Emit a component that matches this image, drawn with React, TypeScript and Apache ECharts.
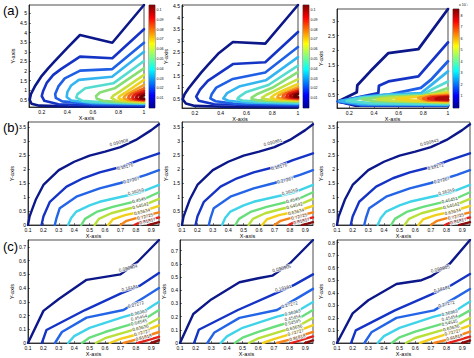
import React, { useEffect, useRef } from 'react';
import * as echarts from 'echarts';

// ---------- Row (a) contour lines: [x, y] points ----------
const A1_LINES = [
  [[1,5.43],[0.752,3.47],[0.499,3.87],[0.4,3.2],[0.3,2.5],[0.25,2.14],[0.2,1.75],[0.15,1.25],[0.115,0.8],[0.105,0.5],[0.12,0.3],[0.18,0.2],[0.4,0.16],[1,0.15]],
  [[1,4.17],[0.752,2.66],[0.499,2.75],[0.35,2.1],[0.29,1.8],[0.24,1.4],[0.21,0.95],[0.2,0.7],[0.22,0.45],[0.33,0.27],[0.6,0.22],[1,0.2]],
  [[1,3.47],[0.752,2.1],[0.5,2.02],[0.38,1.62],[0.33,1.2],[0.305,0.8],[0.31,0.6],[0.36,0.42],[0.6,0.28],[1,0.25]],
  [[1,3.0],[0.75,1.7],[0.49,1.54],[0.43,1.25],[0.4,0.9],[0.395,0.65],[0.43,0.47],[0.6,0.34],[1,0.3]],
  [[1,2.52],[0.76,1.36],[0.54,1.1],[0.48,0.8],[0.47,0.62],[0.52,0.45],[0.7,0.36],[1,0.32]],
  [[1,2.14],[0.77,1.1],[0.655,0.88],[0.625,0.7],[0.63,0.56],[0.68,0.45],[0.8,0.39],[1,0.35]],
  [[1,1.8],[0.81,0.93],[0.76,0.72],[0.745,0.6],[0.78,0.47],[0.9,0.41],[1,0.38]],
  [[1,1.54],[0.85,0.86],[0.81,0.7],[0.8,0.6],[0.83,0.49],[1,0.42]],
  [[1,1.28],[0.877,0.83],[0.85,0.7],[0.84,0.6],[0.87,0.5],[1,0.45]],
  [[1,1.1],[0.9,0.8],[0.88,0.68],[0.877,0.6],[0.9,0.52],[1,0.48]],
  [[1,0.97],[0.93,0.78],[0.91,0.66],[0.91,0.6],[0.93,0.54],[1,0.5]],
  [[1,0.85],[0.955,0.74],[0.94,0.66],[0.94,0.6],[0.96,0.56],[1,0.53]],
  [[1,0.74],[0.975,0.68],[0.97,0.63],[0.975,0.59],[1,0.56]],
];

const A2_LINES = [
  [[1,4.54],[0.746,2.88],[0.495,2.95],[0.38,2.44],[0.3,1.95],[0.25,1.64],[0.2,1.3],[0.15,0.95],[0.12,0.7],[0.105,0.49],[0.13,0.3],[0.2,0.2],[0.5,0.15],[1,0.14]],
  [[1,3.38],[0.746,2.08],[0.495,2.0],[0.3,1.28],[0.24,0.9],[0.21,0.6],[0.23,0.42],[0.35,0.27],[1,0.2]],
  [[1,2.73],[0.746,1.64],[0.495,1.36],[0.366,0.99],[0.33,0.7],[0.32,0.52],[0.36,0.4],[0.5,0.3],[1,0.25]],
  [[1,2.3],[0.75,1.3],[0.55,1.05],[0.45,0.75],[0.42,0.52],[0.46,0.42],[0.6,0.35],[1,0.3]],
  [[1,1.93],[0.77,1.1],[0.6,0.8],[0.54,0.58],[0.53,0.5],[0.57,0.43],[0.7,0.38],[1,0.34]],
  [[1,1.65],[0.8,0.98],[0.68,0.7],[0.64,0.56],[0.64,0.5],[0.68,0.45],[0.8,0.41],[1,0.38]],
  [[1,1.35],[0.83,0.88],[0.75,0.66],[0.72,0.55],[0.75,0.48],[0.85,0.44],[1,0.42]],
  [[1,1.14],[0.86,0.8],[0.81,0.65],[0.79,0.56],[0.82,0.5],[1,0.45]],
  [[1,1.0],[0.89,0.76],[0.85,0.65],[0.84,0.57],[0.87,0.52],[1,0.48]],
  [[1,0.92],[0.91,0.74],[0.885,0.65],[0.88,0.58],[0.91,0.53],[1,0.5]],
  [[1,0.84],[0.93,0.72],[0.915,0.65],[0.91,0.59],[0.94,0.55],[1,0.53]],
  [[1,0.77],[0.955,0.69],[0.94,0.64],[0.94,0.6],[0.96,0.57],[1,0.56]],
  [[1,0.71],[0.975,0.66],[0.97,0.62],[0.975,0.6],[1,0.58]],
];

const A3_LINES = [
  [[1,3.4],[0.76,2.04],[0.517,1.91],[0.37,1.29],[0.265,0.82],[0.26,0.58],[0.108,0.27],[0.25,0.13],[1,0.12]],
  [[1,2.27],[0.76,1.12],[0.517,0.95],[0.44,0.8],[0.435,0.55],[0.26,0.4],[0.108,0.27],[0.3,0.14],[1,0.13]],
  [[1,1.63],[0.86,1.0],[0.78,0.73],[0.517,0.5],[0.3,0.42],[0.108,0.27],[0.3,0.15],[1,0.14]],
  [[1,1.29],[0.87,0.85],[0.78,0.55],[0.5,0.5],[0.3,0.42],[0.12,0.28],[0.3,0.18],[1,0.16]],
  [[1,0.95],[0.88,0.7],[0.79,0.5],[0.5,0.46],[0.3,0.39],[0.18,0.29],[0.35,0.22],[1,0.19]],
  [[1,0.72],[0.9,0.58],[0.8,0.47],[0.5,0.43],[0.3,0.35],[0.4,0.28],[0.8,0.25],[1,0.22]],
  [[1,0.6],[0.9,0.52],[0.8,0.45],[0.55,0.4],[0.42,0.34],[0.55,0.3],[0.8,0.27],[1,0.24]],
  [[1,0.55],[0.85,0.47],[0.7,0.41],[0.58,0.36],[0.7,0.31],[1,0.26]],
  [[1,0.5],[0.85,0.45],[0.76,0.39],[0.8,0.32],[1,0.28]],
  [[1,0.47],[0.85,0.43],[0.8,0.37],[0.83,0.32],[1,0.3]],
  [[1,0.44],[0.88,0.41],[0.84,0.37],[0.87,0.34],[1,0.32]],
  [[1,0.41],[0.92,0.39],[0.9,0.36],[0.92,0.35],[1,0.34]],
];

// ---------- Row (b) contour lines (same in all three panels) ----------
const B_LINES = [
  [[0.1,0],[0.11,0.3],[0.13,0.6],[0.15,0.9],[0.2,1.43],[0.3,1.96],[0.4,2.26],[0.5,2.48],[0.6,2.62],[0.7,2.78],[0.8,3.04],[0.9,3.39],[0.95,3.6]],
  [[0.188,0],[0.2,0.3],[0.242,0.83],[0.35,1.37],[0.457,1.67],[0.565,1.88],[0.72,2.1],[0.82,2.32],[0.95,2.56]],
  [[0.274,0],[0.285,0.25],[0.306,0.6],[0.414,1.01],[0.565,1.31],[0.7,1.5],[0.866,1.79],[0.95,1.96]],
  [[0.36,0],[0.38,0.25],[0.414,0.48],[0.5,0.7],[0.565,0.83],[0.7,1.0],[0.82,1.15],[0.95,1.43]],
  [[0.446,0],[0.47,0.22],[0.55,0.48],[0.65,0.65],[0.75,0.78],[0.85,0.92],[0.95,1.17]],
  [[0.532,0],[0.56,0.22],[0.64,0.42],[0.75,0.58],[0.85,0.7],[0.95,0.93]],
  [[0.62,0],[0.65,0.2],[0.73,0.35],[0.85,0.5],[0.95,0.68]],
  [[0.7,0],[0.74,0.15],[0.82,0.27],[0.95,0.45]],
  [[0.79,0],[0.83,0.1],[0.95,0.27]],
  [[0.88,0],[0.95,0.1]],
];

const B1_LABELS = [
  [0.69,2.95,'0.090908'],[0.73,2.08,'0.18176'],[0.77,1.6,'0.27267'],[0.8,1.19,'0.36359'],
  [0.82,0.89,'0.4545'],[0.83,0.69,'0.54542'],[0.84,0.47,'0.63634'],[0.86,0.3,'0.72725'],[0.875,0.14,'0.81817'],
];
const B2_LABELS = [
  [0.69,2.95,'0.090881'],[0.73,2.08,'0.18176'],[0.77,1.6,'0.27267'],[0.8,1.19,'0.36359'],
  [0.82,0.89,'0.4545'],[0.83,0.69,'0.54542'],[0.84,0.47,'0.63634'],[0.86,0.3,'0.72725'],[0.875,0.14,'0.81817'],
];
const B3_LABELS = [
  [0.69,2.95,'0.090843'],[0.73,2.08,'0.18172'],[0.77,1.6,'0.27267'],[0.8,1.19,'0.36359'],
  [0.82,0.89,'0.45451'],[0.83,0.69,'0.54542'],[0.84,0.47,'0.63634'],[0.86,0.3,'0.72725'],[0.875,0.14,'0.81817'],
];

// ---------- Row (c) contour lines ----------
const C1_LINES = [
  [[0.1,0],[0.2,0.234],[0.3,0.32],[0.48,0.46],[0.7,0.5],[0.81,0.59],[0.95,0.75]],
  [[0.19,0],[0.22,0.095],[0.47,0.24],[0.7,0.36],[0.83,0.42],[0.95,0.51]],
  [[0.275,0],[0.32,0.08],[0.48,0.185],[0.72,0.24],[0.85,0.33],[0.95,0.4]],
  [[0.36,0],[0.4,0.05],[0.5,0.11],[0.72,0.19],[0.85,0.23],[0.95,0.3]],
  [[0.45,0],[0.5,0.04],[0.6,0.08],[0.75,0.13],[0.85,0.17],[0.95,0.24]],
  [[0.54,0],[0.6,0.035],[0.75,0.085],[0.85,0.12],[0.95,0.18]],
  [[0.63,0],[0.7,0.03],[0.8,0.06],[0.95,0.13]],
  [[0.72,0],[0.8,0.025],[0.95,0.08]],
  [[0.81,0],[0.95,0.045]],
  [[0.9,0],[0.95,0.02]],
];
const C2_LINES = [
  [[0.1,0],[0.185,0.22],[0.3,0.33],[0.48,0.46],[0.6,0.49],[0.69,0.51],[0.8,0.6],[0.95,0.78]],
  [[0.19,0],[0.22,0.1],[0.47,0.25],[0.7,0.37],[0.83,0.44],[0.95,0.52]],
  [[0.275,0],[0.32,0.08],[0.48,0.19],[0.72,0.25],[0.85,0.34],[0.95,0.41]],
  [[0.36,0],[0.4,0.05],[0.5,0.115],[0.72,0.2],[0.85,0.24],[0.95,0.31]],
  [[0.45,0],[0.5,0.04],[0.6,0.085],[0.75,0.14],[0.85,0.18],[0.95,0.25]],
  [[0.54,0],[0.6,0.035],[0.75,0.09],[0.85,0.125],[0.95,0.19]],
  [[0.63,0],[0.7,0.03],[0.8,0.065],[0.95,0.135]],
  [[0.72,0],[0.8,0.025],[0.95,0.085]],
  [[0.81,0],[0.95,0.05]],
  [[0.9,0],[0.95,0.02]],
];
const C3_LINES = [
  [[0.1,0],[0.2,0.236],[0.3,0.34],[0.48,0.47],[0.64,0.5],[0.7,0.53],[0.82,0.63],[0.95,0.82]],
  [[0.19,0],[0.22,0.1],[0.47,0.26],[0.7,0.385],[0.83,0.46],[0.95,0.55]],
  [[0.275,0],[0.32,0.085],[0.48,0.2],[0.72,0.26],[0.85,0.355],[0.95,0.43]],
  [[0.36,0],[0.4,0.055],[0.5,0.12],[0.72,0.21],[0.85,0.25],[0.95,0.33]],
  [[0.45,0],[0.5,0.045],[0.6,0.09],[0.75,0.145],[0.85,0.19],[0.95,0.26]],
  [[0.54,0],[0.6,0.04],[0.75,0.095],[0.85,0.13],[0.95,0.2]],
  [[0.63,0],[0.7,0.03],[0.8,0.07],[0.95,0.14]],
  [[0.72,0],[0.8,0.025],[0.95,0.09]],
  [[0.81,0],[0.95,0.05]],
  [[0.9,0],[0.95,0.02]],
];

const C1_LABELS = [
  [0.75,0.545,'0.090904'],[0.76,0.4,'0.18181'],[0.8,0.28,'0.27272'],[0.82,0.22,'0.36363'],
  [0.82,0.185,'0.45454'],[0.82,0.15,'0.54545'],[0.83,0.11,'0.63636'],[0.84,0.075,'0.72727'],[0.85,0.04,'0.81818'],
];
const C2_LABELS = [
  [0.75,0.565,'0.090905'],[0.76,0.415,'0.18181'],[0.8,0.29,'0.27272'],[0.82,0.23,'0.36363'],
  [0.82,0.19,'0.45454'],[0.82,0.155,'0.54545'],[0.83,0.115,'0.63636'],[0.84,0.08,'0.72727'],[0.85,0.04,'0.81818'],
];
const C3_LABELS = [
  [0.76,0.59,'0.090905'],[0.77,0.43,'0.18181'],[0.8,0.31,'0.27272'],[0.82,0.24,'0.36363'],
  [0.82,0.2,'0.45454'],[0.82,0.16,'0.54545'],[0.83,0.12,'0.63636'],[0.84,0.085,'0.72727'],[0.85,0.045,'0.81818'],
];

// ---------- Axis extents and tick labels ----------
const A1_RANGE = [0.1, 1, 0.13, 5.43];
const A2_RANGE = [0.1, 1, 0.11, 4.54];
const A3_RANGE = [0.1, 1, 0.05, 3.4];
const B_RANGE = [0.1, 0.95, 0, 3.68];
const C1_RANGE = [0.1, 0.95, 0, 0.75];
const C2_RANGE = [0.1, 0.95, 0, 0.78];
const C3_RANGE = [0.1, 0.95, 0, 0.82];

const A_X_TICKS = [0.2, 0.4, 0.6, 0.8, 1];
const A1_Y_TICKS = [0.5, 1, 1.5, 2, 2.5, 3, 3.5, 4, 4.5, 5];
const A2_Y_TICKS = [0.5, 1, 1.5, 2, 2.5, 3, 3.5, 4, 4.5];
const A3_Y_TICKS = [0.5, 1, 1.5, 2, 2.5, 3];
const BC_X_TICKS = [0.1, 0.2, 0.3, 0.4, 0.5, 0.6, 0.7, 0.8, 0.9];
const B_Y_TICKS = [0, 0.5, 1, 1.5, 2, 2.5, 3, 3.5];
const C12_Y_TICKS = [0, 0.1, 0.2, 0.3, 0.4, 0.5, 0.6, 0.7];
const C3_Y_TICKS = [0, 0.1, 0.2, 0.3, 0.4, 0.5, 0.6, 0.7, 0.8];

// colour bars of row (a)
const CB1_MAX = 0.105;
const CB1_TICKS = [0.01, 0.02, 0.03, 0.04, 0.05, 0.06, 0.07, 0.08, 0.09, 0.1];
const CB2_MAX = 0.105;
const CB2_TICKS = [0.01, 0.02, 0.03, 0.04, 0.05, 0.06, 0.07, 0.08, 0.09, 0.1];
const CB3_MAX = 8.6;
const CB3_TICKS = [1, 2, 3, 4, 5, 6, 7, 8];

const A_COLORS = ['#0c188a','#1534c6','#1f5fe6','#35b5f0','#55dcd0','#86de74','#c6e03e','#f0d21e','#f5a01e','#f06018','#e02010','#b00808','#6e0000'];
const BC_COLORS = ['#0c188a','#1534c6','#2464e6','#40d4ea','#68de7c','#b8e03a','#f2cf1a','#f5841a','#e4201a','#8a0c0c'];
const JET_STOPS = [
  { offset: 0, color: '#00008f' }, { offset: 0.125, color: '#0000ff' }, { offset: 0.375, color: '#00ffff' },
  { offset: 0.625, color: '#ffff00' }, { offset: 0.875, color: '#ff0000' }, { offset: 1, color: '#800000' },
];

export default function App() {
  const ref = useRef<HTMLDivElement>(null);
  useEffect(() => {
    const chart = echarts.init(ref.current!, null, { renderer: 'svg' });

    const panels = [
      { rect: [29, 5, 115, 102], range: A1_RANGE, xt: A_X_TICKS, yt: A1_Y_TICKS, lines: A1_LINES, colors: A_COLORS, labels: null, lw: 2.6 },
      { rect: [182, 5, 116, 103], range: A2_RANGE, xt: A_X_TICKS, yt: A2_Y_TICKS, lines: A2_LINES, colors: A_COLORS, labels: null, lw: 2.6 },
      { rect: [337, 9, 111, 99], range: A3_RANGE, xt: A_X_TICKS, yt: A3_Y_TICKS, lines: A3_LINES, colors: A_COLORS, labels: null, lw: 2.8 },
      { rect: [28, 122, 131, 103], range: B_RANGE, xt: BC_X_TICKS, yt: B_Y_TICKS, lines: B_LINES, colors: BC_COLORS, labels: B1_LABELS, lw: 2.4 },
      { rect: [182, 122, 131, 103], range: B_RANGE, xt: BC_X_TICKS, yt: B_Y_TICKS, lines: B_LINES, colors: BC_COLORS, labels: B2_LABELS, lw: 2.4 },
      { rect: [337, 122, 133, 103], range: B_RANGE, xt: BC_X_TICKS, yt: B_Y_TICKS, lines: B_LINES, colors: BC_COLORS, labels: B3_LABELS, lw: 2.4 },
      { rect: [28, 240, 131, 103], range: C1_RANGE, xt: BC_X_TICKS, yt: C12_Y_TICKS, lines: C1_LINES, colors: BC_COLORS, labels: C1_LABELS, lw: 2.4 },
      { rect: [180, 240, 133, 103], range: C2_RANGE, xt: BC_X_TICKS, yt: C12_Y_TICKS, lines: C2_LINES, colors: BC_COLORS, labels: C2_LABELS, lw: 2.4 },
      { rect: [337, 240, 133, 103], range: C3_RANGE, xt: BC_X_TICKS, yt: C3_Y_TICKS, lines: C3_LINES, colors: BC_COLORS, labels: C3_LABELS, lw: 2.4 },
    ];
    const colorbars = [
      { rect: [149, 5, 6, 103], max: CB1_MAX, ticks: CB1_TICKS, name: '' },
      { rect: [303, 5, 6, 103], max: CB2_MAX, ticks: CB2_TICKS, name: '' },
      { rect: [453, 9, 6, 99], max: CB3_MAX, ticks: CB3_TICKS, name: 'x 10⁻³' },
    ];

    const grid: any[] = [];
    const xAxis: any[] = [];
    const yAxis: any[] = [];
    const series: any[] = [];
    const black = '#000';

    panels.forEach((p, i) => {
      const [l, t, w, h] = p.rect;
      grid.push({ left: l, top: t, width: w, height: h, show: true, borderColor: black, borderWidth: 0.7, backgroundColor: '#fff' });
      xAxis.push({
        type: 'value', gridIndex: i, min: p.range[0], max: p.range[1],
        axisLine: { show: true, onZero: false, lineStyle: { color: black, width: 0.7 } },
        axisTick: { show: true, inside: true, length: 2, customValues: p.xt, lineStyle: { color: black, width: 0.5 } },
        axisLabel: { customValues: p.xt, fontSize: 5, color: black, margin: 2 },
        splitLine: { show: false },
        name: 'X-axis', nameLocation: 'middle', nameGap: 8, nameTextStyle: { fontSize: 5.5, color: black },
      });
      yAxis.push({
        type: 'value', gridIndex: i, min: p.range[2], max: p.range[3],
        axisLine: { show: true, onZero: false, lineStyle: { color: black, width: 0.7 } },
        axisTick: { show: true, inside: true, length: 2, customValues: p.yt, lineStyle: { color: black, width: 0.5 } },
        axisLabel: { customValues: p.yt, fontSize: 5, color: black, margin: 2 },
        splitLine: { show: false },
        name: 'Y-axis', nameLocation: 'middle', nameGap: 11, nameTextStyle: { fontSize: 5.5, color: black },
      });
      p.lines.forEach((pts, k) => {
        series.push({
          type: 'line', xAxisIndex: i, yAxisIndex: i, data: pts, symbol: 'none', showSymbol: false,
          lineStyle: { color: p.colors[k % p.colors.length], width: p.lw, join: 'round', cap: 'round' },
          silent: true, z: 2, clip: true,
        });
      });
      if (p.labels) {
        series.push({
          type: 'scatter', xAxisIndex: i, yAxisIndex: i, z: 6, silent: true, symbolSize: 1,
          itemStyle: { color: 'rgba(0,0,0,0)' },
          data: p.labels.map((d: any) => ({ value: [d[0], d[1]], name: d[2] })),
          label: {
            show: true, position: 'inside', formatter: (q: any) => q.name, fontSize: 4.6, color: black,
            backgroundColor: '#fff', padding: [0, 0.5], rotate: 14,
          },
        });
      }
    });

    colorbars.forEach((c, j) => {
      const i = panels.length + j;
      const [l, t, w, h] = c.rect;
      grid.push({ left: l, top: t, width: w, height: h, show: true, borderColor: black, borderWidth: 0.6 });
      xAxis.push({ type: 'category', gridIndex: i, data: ['c'], show: false });
      yAxis.push({
        type: 'value', gridIndex: i, min: 0, max: c.max, position: 'right',
        axisLine: { show: false },
        axisTick: { show: true, inside: true, length: 1.5, customValues: c.ticks, lineStyle: { color: black, width: 0.4 } },
        axisLabel: { customValues: c.ticks, fontSize: 3.6, color: black, margin: 1.5 },
        splitLine: { show: false },
        name: c.name, nameLocation: 'end', nameGap: 2, nameTextStyle: { fontSize: 3.6, color: black, align: 'left' },
      });
      series.push({
        type: 'bar', xAxisIndex: i, yAxisIndex: i, data: [c.max], barWidth: '100%', silent: true, z: 1,
        itemStyle: { color: new echarts.graphic.LinearGradient(0, 1, 0, 0, JET_STOPS) },
      });
    });

    chart.setOption({
      animation: false,
      backgroundColor: '#fff',
      textStyle: { fontFamily: 'Liberation Sans' },
      grid, xAxis, yAxis, series,
      graphic: [
        { type: 'text', left: 3, top: 4, style: { text: '(a)', fill: black, font: '13px Liberation Sans' } },
        { type: 'text', left: 3, top: 121, style: { text: '(b)', fill: black, font: '13px Liberation Sans' } },
        { type: 'text', left: 3, top: 240, style: { text: '(c)', fill: black, font: '13px Liberation Sans' } },
      ],
    });
    return () => chart.dispose();
  }, []);
  return <div ref={ref} style={{ position: 'absolute', left: 0, top: 0, width: 474, height: 358, background: '#fff' }} />;
}
